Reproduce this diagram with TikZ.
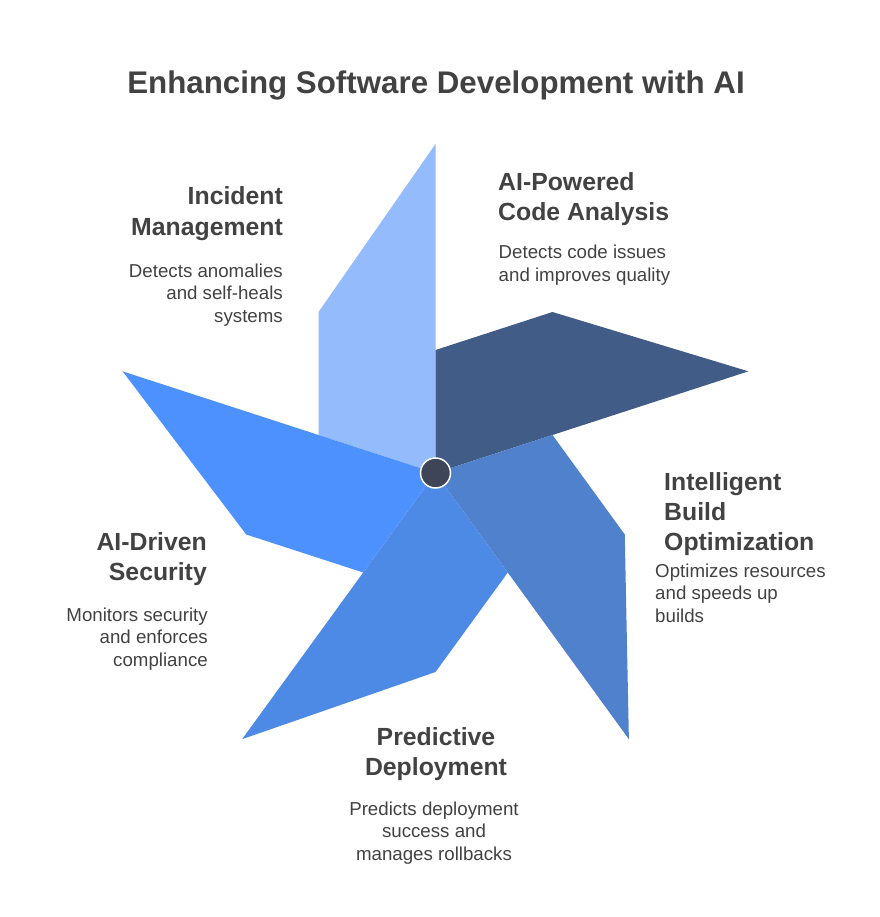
\documentclass[tikz,border=0pt]{standalone}
\usepackage{fontspec}
\setmainfont{Liberation Sans}
\definecolor{bladeA}{HTML}{94BCFD}
\definecolor{bladeB}{HTML}{405C87}
\definecolor{bladeC}{HTML}{5081CC}
\definecolor{bladeD}{HTML}{4C8AE5}
\definecolor{bladeE}{HTML}{4D91FF}
\definecolor{hubcol}{HTML}{3D4556}
\definecolor{txt}{HTML}{424242}
\begin{document}
\begin{tikzpicture}[x=1pt,y=1pt,
  head/.style={inner sep=0pt, text=txt, font=\bfseries\fontsize{24.8}{30}\selectfont},
  desc/.style={inner sep=0pt, text=txt, font=\fontsize{18.7}{22.5}\selectfont}]
\useasboundingbox (0,0) rectangle (879,-917);
\fill[white] (0,0) rectangle (879,-917);
\coordinate (C) at (435.5,-473);
\foreach \k/\col in {0/bladeA,1/bladeB,2/bladeC,3/bladeD,4/bladeE}{
  \pgfmathsetmacro\th{90-72*\k}
  \fill[\col, shift={(C)}] (0,0) -- ({\th}:329) -- ({\th+36}:199) -- ({\th+72}:123) -- cycle;
}
\node[circle, fill=hubcol, draw=white, line width=1.5pt, minimum size=30pt, inner sep=0pt] (hub) at (C) {};

\node[font=\bfseries\fontsize{31.3}{36}\selectfont, text=txt, inner sep=0pt, anchor=base] (title) at (436,-94) {Enhancing Software Development with AI};

\node[head, anchor=base east, align=right] (h1) at (283,-235) {Incident\\Management};
\node[desc, anchor=base east, align=right] (d1) at (283,-322) {Detects anomalies\\and self-heals\\systems};

\node[head, anchor=base west, align=left] (h2) at (498,-221) {AI-Powered\\Code Analysis};
\node[desc, anchor=base west, align=left] (d2) at (498.5,-281) {Detects code issues\\and improves quality};

\node[head, anchor=base west, align=left] (h3) at (664,-550) {Intelligent\\Build\\Optimization};
\node[desc, anchor=base west, align=left] (d3) at (655,-622) {Optimizes resources\\and speeds up\\builds};

\node[head, anchor=base east, align=right] (h4) at (207,-580) {AI-Driven\\Security};
\node[desc, anchor=base east, align=right] (d4) at (208,-666) {Monitors security\\and enforces\\compliance};

\node[head, anchor=base, align=center] (h5) at (436,-775) {Predictive\\Deployment};
\node[desc, anchor=base, align=center] (d5) at (434,-860) {Predicts deployment\\success and\\manages rollbacks};
\end{tikzpicture}
\end{document}
